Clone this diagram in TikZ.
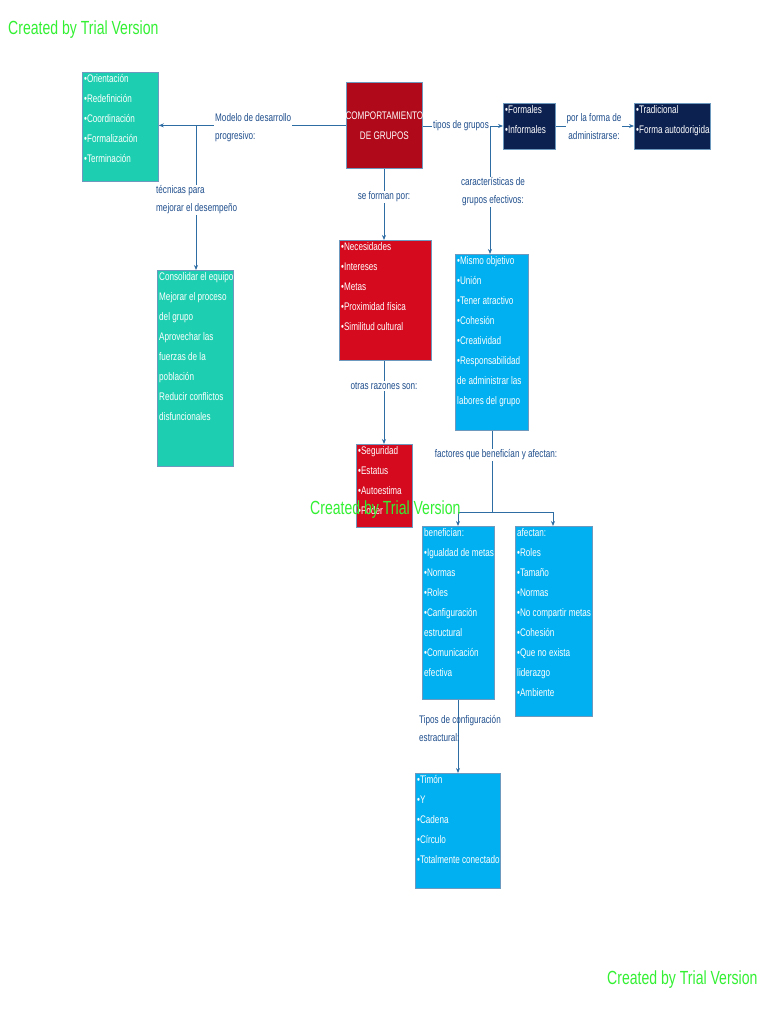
\documentclass[tikz,border=0pt]{standalone}
\usepackage{fontspec}
\setmainfont{Liberation Sans}[FakeStretch=0.74]
\usetikzlibrary{arrows.meta}
\definecolor{darkred}{HTML}{B00A1A}
\definecolor{boxred}{HTML}{D50A1E}
\definecolor{teal2}{HTML}{1DCFB0}
\definecolor{navy}{HTML}{0D2150}
\definecolor{cyan2}{HTML}{00B0F0}
\definecolor{linec}{HTML}{2E6DA4}
\definecolor{labc}{HTML}{1F4E8C}
\definecolor{wm}{HTML}{33F033}
\begin{document}
\begin{tikzpicture}[x=1pt,y=-1pt]

      \tikzset{box/.style={draw=linec!70, line width=0.8pt, anchor=north west, inner sep=0pt},
               txt/.style={anchor=north west, align=left, text=white, font=\fontsize{11}{20}\selectfont, inner sep=2pt},
               lab/.style={text=labc, fill=white, align=left, font=\fontsize{11}{18}\selectfont, inner sep=1pt},
               conn/.style={draw=linec, line width=0.8pt},
               arr/.style={conn, -{Stealth[length=5pt,width=4pt]}},
               wmark/.style={text=wm, font=\fontsize{19}{22}\selectfont, anchor=west, inner sep=0pt}}
      \useasboundingbox (0,0) rectangle (768,1024);
%% Boxes
      	\node[box, fill=darkred, minimum width=76, minimum height=86] (main) at (346,82) {};
      	\node[text=white, align=center, font=\fontsize{11}{20}\selectfont] at (main.center) {COMPORTAMIENTO\\DE GRUPOS};
      	\node[box, fill=teal2, minimum width=76, minimum height=109] (stages) at (82,72) {};
      	\node[txt] at (stages.north west) {•Orientación\\•Redefinición\\•Coordinación\\•Formalización\\•Terminación};
      	\node[box, fill=teal2, minimum width=76, minimum height=196] (tecn) at (157,270) {};
      	\node[txt] at (tecn.north west) {Consolidar el equipo\\Mejorar el proceso\\del grupo\\Aprovechar las\\fuerzas de la\\población\\Reducir conflictos\\disfuncionales};
      	\node[box, fill=navy, minimum width=52, minimum height=46] (tipos) at (503,103) {};
      	\node[txt] at (tipos.north west) {•Formales\\•Informales};
      	\node[box, fill=navy, minimum width=76, minimum height=46] (admin) at (634,103) {};
      	\node[txt] at (admin.north west) {•Tradicional\\•Forma autodorigida};
      	\node[box, fill=boxred, minimum width=92, minimum height=120] (neces) at (339,240) {};
      	\node[txt] at (neces.north west) {•Necesidades\\•Intereses\\•Metas\\•Proximidad física\\•Similitud cultural};
      	\node[box, fill=boxred, minimum width=56, minimum height=83] (otras) at (356,444) {};
      	\node[txt] at (otras.north west) {•Seguridad\\•Estatus\\•Autoestima\\•Poder};
      	\node[box, fill=cyan2, minimum width=73, minimum height=176] (caract) at (455,254) {};
      	\node[txt] at (caract.north west) {•Mismo objetivo\\•Unión\\•Tener atractivo\\•Cohesión\\•Creatividad\\•Responsabilidad\\de administrar las\\labores del grupo};
      	\node[box, fill=cyan2, minimum width=72, minimum height=173] (benef) at (422,526) {};
      	\node[txt] at (benef.north west) {beneficían:\\•Igualdad de metas\\•Normas\\•Roles\\•Canfiguración\\estructural\\•Comunicación\\efectiva};
      	\node[box, fill=cyan2, minimum width=77, minimum height=190] (afect) at (515,526) {};
      	\node[txt] at (afect.north west) {afectan:\\•Roles\\•Tamaño\\•Normas\\•No compartir metas\\•Cohesión\\•Que no exista\\liderazgo\\•Ambiente};
      	\node[box, fill=cyan2, minimum width=85, minimum height=115] (config) at (415,773) {};
      	\node[txt] at (config.north west) {•Timón\\•Y\\•Cadena\\•Círculo\\•Totalmente conectado};
%% Joints
      	\coordinate (j1) at (196,126);
      	\coordinate (j2) at (490,126);
      	\coordinate (j3) at (492,512);
      	\coordinate (j4) at (458,512);
      	\coordinate (j5) at (553,512);
%Edges
		\path[arr] (main.west) -- (stages.east |- main.west);
		\path[arr] (j1) -- (j1 |- tecn.north);
		\path[arr] (main.east |- j2) -- (tipos.west |- j2);
		\path[arr] (j2) -- (j2 |- caract.north);
		\path[arr] (tipos.east |- j2) -- (admin.west |- j2);
		\path[arr] (main.south -| 384,0) -- (neces.north -| 384,0);
		\path[arr] (neces.south -| 384,0) -- (otras.north -| 384,0);
		\path[conn] (caract.south -| j3) -- (j3);
		\path[conn] (j4) -- (j5);
		\path[arr] (j4) -- (j4 |- benef.north);
		\path[arr] (j5) -- (j5 |- afect.north);
		\path[arr] (benef.south -| j4) -- (j4 |- config.north);
%Labels
		\node[lab, anchor=west] at (214,128) {Modelo de desarrollo\\progresivo:};
		\node[lab, anchor=west] at (155,200) {técnicas para\\mejorar el desempeño};
		\node[lab] at (461,126) {tipos de grupos};
		\node[lab, align=center] at (493,192) {características de\\grupos efectivos:};
		\node[lab, align=center] at (594,127) {por la forma de\\administrarse:};
		\node[lab] at (384,197) {se forman por:};
		\node[lab] at (384,386) {otras razones son:};
		\node[lab] at (496,455) {factores que beneficían y afectan:};
		\node[lab, anchor=west, fill=none] at (418,728) {Tipos de configuración\\estractural:};
%Watermarks
		\node[wmark] at (8,30) {Created by Trial Version};
		\node[wmark] at (310,510) {Created by Trial Version};
		\node[wmark] at (607,980) {Created by Trial Version};

	\end{tikzpicture}
\end{document}
